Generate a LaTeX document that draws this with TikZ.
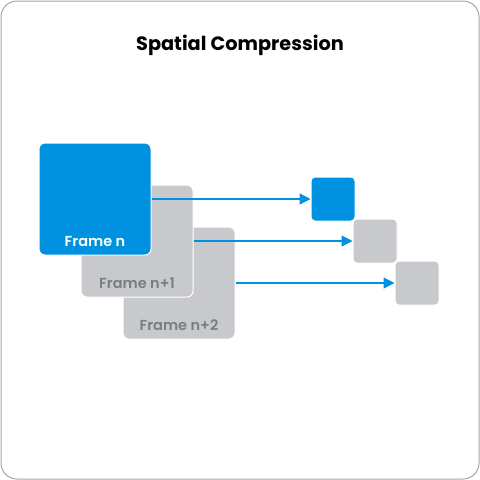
\documentclass[tikz,border=0pt]{standalone}
\usepackage{fontspec}
\setmainfont{Poppins}
\newfontfamily\medfont{Poppins SemiBold}
\usetikzlibrary{arrows.meta}
\definecolor{sblue}{HTML}{0091E1}
\definecolor{sgray}{HTML}{C8C9CC}
\definecolor{tgray}{HTML}{7C7D80}
\definecolor{bgray}{HTML}{A4A5A8}
\tikzset{
  bigframe/.style={rectangle, rounded corners=6pt, draw=white, line width=1pt, minimum width=112pt, minimum height=112pt, inner sep=0pt},
  smallframe/.style={rectangle, rounded corners=4pt, draw=white, line width=1pt, minimum width=44pt, minimum height=44pt, inner sep=0pt},
  flabel/.style={anchor=base, font=\fontsize{14.5}{16}\medfont, inner sep=0pt},
  flow/.style={draw=sblue, line width=1.2pt, -{Triangle[length=11pt,width=11pt]}}
}
\begin{document}
\begin{tikzpicture}[x=1pt,y=-1pt]
\useasboundingbox (0,0) rectangle (480,480);
\draw[bgray, line width=1pt, rounded corners=16pt] (1,1) rectangle (479,479);
\node[anchor=base, font=\fontsize{19.3}{21}\selectfont\bfseries] (title) at (240,50) {Spatial Compression};
% big frames
\node[bigframe, fill=sgray] (f3) at (179,283) {};
\node[bigframe, fill=sgray] (f2) at (137,241) {};
\node[bigframe, fill=sblue] (f1) at (95,199) {};
\node[flabel, text=tgray] (l3) at (179,330) {Frame n+2};
\node[flabel, text=tgray] (l2) at (137,288) {Frame n+1};
\node[flabel, text=white] (l1) at (95,246) {Frame n};
% small frames
\node[smallframe, fill=sgray] (s3) at (417,283) {};
\node[smallframe, fill=sgray] (s2) at (375,241) {};
\node[smallframe, fill=sblue] (s1) at (333,199) {};
% arrows
\draw[flow] (f1.east) -- (s1.west);
\draw[flow] (f2.east) -- (s2.west);
\draw[flow] (f3.east) -- (s3.west);
\end{tikzpicture}
\end{document}
